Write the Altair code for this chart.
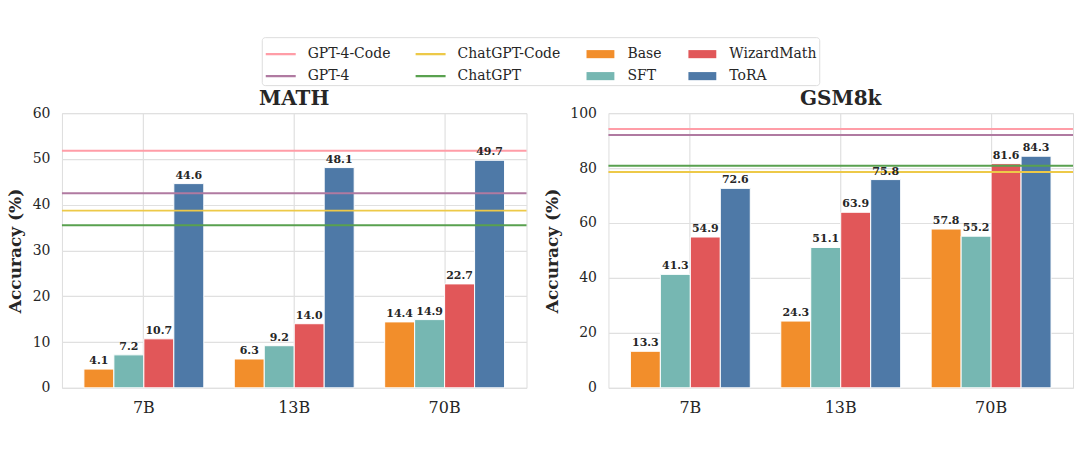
import altair as alt
import pandas as pd

sizes = ["7B", "13B", "70B"]
methods = ["Base", "SFT", "WizardMath", "ToRA"]

math_base = [4.1, 6.3, 14.4]
math_sft = [7.2, 9.2, 14.9]
math_wizard = [10.7, 14.0, 22.7]
math_tora = [44.6, 48.1, 49.7]

gsm_base = [13.3, 24.3, 57.8]
gsm_sft = [41.3, 51.1, 55.2]
gsm_wizard = [54.9, 63.9, 81.6]
gsm_tora = [72.6, 75.8, 84.3]

ref_names = ["GPT-4-Code", "GPT-4", "ChatGPT-Code", "ChatGPT"]
math_refs = [51.8, 42.5, 38.7, 35.5]
gsm_refs = [94.2, 92.0, 78.6, 80.8]

legend_order = ["GPT-4-Code", "GPT-4", "ChatGPT-Code", "ChatGPT",
                "Base", "SFT", "WizardMath", "ToRA"]
legend_colors = ["#ff9da7", "#b07aa1", "#edc948", "#59a14f",
                 "#f28e2b", "#76b7b2", "#e15759", "#4e79a7"]
LINE = "M-1,-0.075H1V0.075H-1Z"
RECT = "M-0.93,-0.27H0.93V0.27H-0.93Z"
legend_shapes = [LINE, LINE, LINE, LINE, RECT, RECT, RECT, RECT]

FONT = "DejaVu Serif"


def bars_df(vals):
    rows = []
    for m, series in zip(methods, vals):
        for s, v in zip(sizes, series):
            rows.append({"size": s, "series": m, "value": v})
    return pd.DataFrame(rows)


def refs_df(vals):
    return pd.DataFrame({"series": ref_names, "value": vals})


color_scale = alt.Scale(domain=legend_order, range=legend_colors)
shape_scale = alt.Scale(domain=legend_order, range=legend_shapes)

legend_kw = dict(
    title=None, orient="none", legendX=200, legendY=-76, columns=4,
    symbolSize=900, symbolStrokeWidth=0, symbolOpacity=1, symbolOffset=2,
    labelFont=FONT, labelFontSize=14, labelColor="#262626", labelOffset=12,
    columnPadding=23, rowPadding=-1, padding=2,
    strokeColor="#dddddd", cornerRadius=3, fillColor="white",
)


def panel(vals, refs, title, ymax, step, with_legend):
    bdf = bars_df(vals)
    rdf = refs_df(refs)
    x = alt.X("size:N", sort=sizes, title=None,
              scale=alt.Scale(paddingInner=0.2027, paddingOuter=0.146),
              axis=alt.Axis(labelAngle=0, labelFont=FONT, labelFontSize=16,
                            labelColor="#262626", ticks=False, domain=False,
                            labelPadding=12, grid=True, bandPosition=0.5,
                            gridColor="#e0e0e0", gridWidth=1.2))
    xo = alt.XOffset("series:N", sort=methods,
                     scale=alt.Scale(paddingInner=0, paddingOuter=0))
    y = alt.Y("value:Q", title="Accuracy (%)",
              scale=alt.Scale(domain=[0, ymax], nice=False),
              axis=alt.Axis(values=list(range(0, ymax + 1, step)),
                            labelFont=FONT, labelFontSize=14,
                            labelColor="#262626", ticks=False, domain=False,
                            labelPadding=12, grid=True, gridColor="#e0e0e0",
                            gridWidth=1.2, titleFont=FONT, titleFontSize=17,
                            titleFontWeight="bold", titleColor="#262626",
                            titlePadding=8))
    bars = alt.Chart(bdf).mark_bar(stroke="white", strokeWidth=1).encode(
        x=x, xOffset=xo, y=y,
        color=alt.Color("series:N", scale=color_scale, legend=None))
    text = alt.Chart(bdf).mark_text(
        baseline="bottom", dy=-3, font=FONT, fontWeight="bold", fontSize=11,
        color="#262626").encode(x=x, xOffset=xo, y=y,
                                text=alt.Text("value:Q", format=".1f"))
    rules = alt.Chart(rdf).mark_rule(strokeWidth=2).encode(
        y=alt.Y("value:Q"),
        color=alt.Color("series:N", scale=color_scale, legend=None))
    layers = [bars, rules, text]
    if with_legend:
        ldf = pd.DataFrame({"series": legend_order})
        pts = alt.Chart(ldf).mark_point(filled=True, size=0).encode(
            x=alt.value(0), y=alt.value(0),
            color=alt.Color("series:N", scale=color_scale,
                            legend=alt.Legend(**legend_kw)),
            shape=alt.Shape("series:N", scale=shape_scale,
                            legend=alt.Legend(**legend_kw)))
        layers = [pts] + layers
    return alt.layer(*layers).properties(
        width=465, height=275,
        title=alt.Title(title, font=FONT, fontSize=20, fontWeight="bold",
                        color="#262626", offset=-3))


left = panel([math_base, math_sft, math_wizard, math_tora], math_refs,
             "MATH", 60, 10, True)
right = panel([gsm_base, gsm_sft, gsm_wizard, gsm_tora], gsm_refs,
              "GSM8k", 100, 20, False)

chart = alt.hconcat(left, right, spacing=14).properties(
    padding={"left": 5, "top": 36, "right": 5, "bottom": 5}
).configure_view(stroke="#cccccc", strokeWidth=1.5).configure(
    background="white")

chart.save("out.html", embed_options={"renderer": "svg", "actions": False})
